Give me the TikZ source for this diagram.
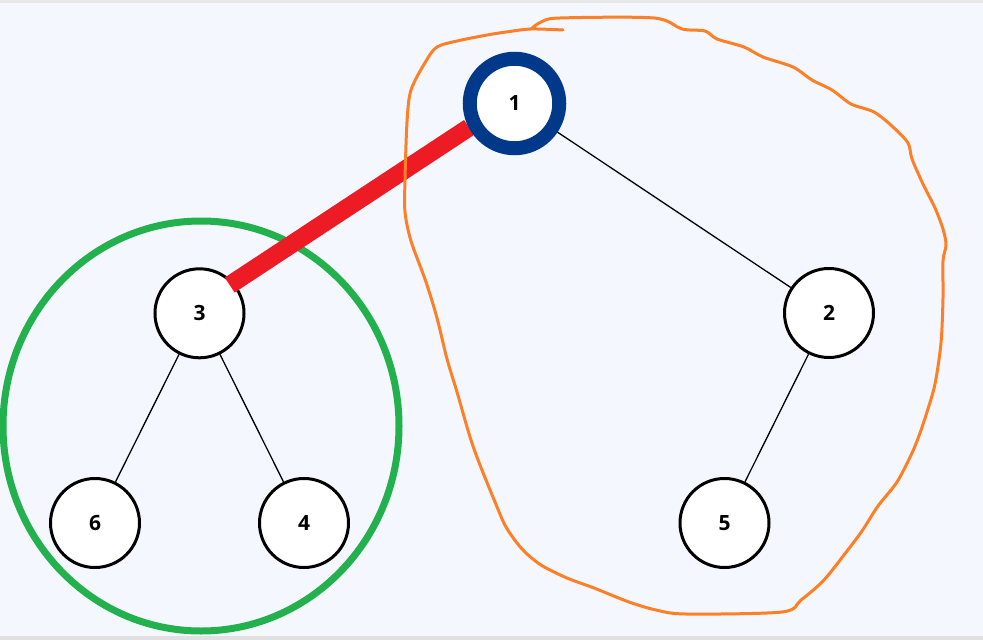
\documentclass[tikz,border=0pt]{standalone}
\usepackage{fontspec}
\setmainfont{Open Sans}
\definecolor{bgc}{RGB}{244,248,254}
\definecolor{topc}{RGB}{232,232,232}
\definecolor{botc}{RGB}{224,224,224}
\definecolor{navyc}{RGB}{0,57,138}
\definecolor{greenc}{RGB}{34,177,76}
\definecolor{redc}{RGB}{237,28,36}
\definecolor{orangec}{RGB}{255,127,39}
\tikzset{
  vtx/.style={circle,draw=black,line width=3pt,fill=white,minimum size=89pt,inner sep=0pt,font=\fontsize{21}{21}\selectfont\bfseries},
  rootvtx/.style={vtx,draw=navyc,line width=14pt,minimum size=89.5pt},
  edge/.style={draw=black,line width=1.3pt},
  hilite/.style={draw=redc,line width=18pt,line cap=butt},
  blob/.style={draw=orangec,line width=3pt,line join=round,line cap=round},
  ring/.style={draw=greenc,line width=7pt}
}
\begin{document}
\begin{tikzpicture}[x=1pt,y=-1pt]
\useasboundingbox (0,0) rectangle (983,640);
\fill[bgc] (0,0) rectangle (983,640);
\fill[topc] (0,0) rectangle (983,3);
\fill[botc] (0,636) rectangle (983,640);
% green circle
\draw[ring] (201,426) ellipse [x radius=198, y radius=205];
% nodes
\node[vtx] (n3) at (199.5,313.3) {3};
\node[vtx] (n2) at (829,313) {2};
\node[vtx] (n6) at (95,523) {6};
\node[vtx] (n4) at (304,523) {4};
\node[vtx] (n5) at (724.5,523) {5};
% edges
\draw[edge] (n3) -- (n6);
\draw[edge] (n3) -- (n4);
\draw[edge] (n2) -- (n5);
% red highlight
\coordinate (r3) at (229.7,285);
\coordinate (r1) at (469,127.5);
\draw[hilite] (r3) -- (r1);
% root
\node[rootvtx] (n1) at (514.5,103.5) {1};
\draw[edge] (n1) -- (n2);
% orange hand-drawn loop
\draw[blob] plot[smooth,tension=0.5] coordinates {
 (531,29) (541,22) (560,18) (654,18) (682,29) (705,31) (717,39) (744,47)
 (763,57) (793,67) (812,80) (832,90) (851,104) (874,112) (893,127) (908,143)
 (912,159) (923,184) (935,208) (943,229) (946,245) (943,261) (943,298)
 (941,343) (935,384) (927,412) (920,433) (912,453) (897,482) (878,506)
 (862,531) (847,551) (824,580) (801,600) (782,612) (686,614) (656,610)
 (629,602) (594,588) (567,578) (541,565) (522,549) (506,527) (495,502)
 (480,465) (470,437) (457,392) (447,359) (437,318) (426,282) (411,241)
 (405,212) (405,180) (407,122) (411,90) (426,61) (437,47) (457,41)
 (487,35) (506,32) (531,29) (563,30)};
\end{tikzpicture}
\end{document}
